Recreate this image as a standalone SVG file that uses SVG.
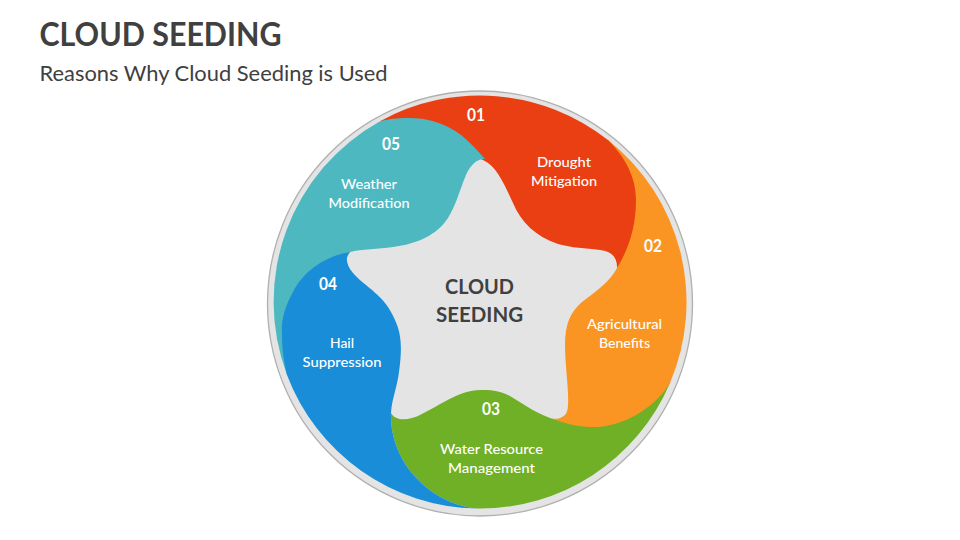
<svg xmlns="http://www.w3.org/2000/svg" width="960" height="540" viewBox="0 0 960 540">
<style>
text{font-family:"Lato","Carlito","Open Sans",sans-serif}
.t{fill:#404040}
.h{font-weight:700;font-size:32px}
.s{font-weight:400;font-size:21.500px}
.c{font-weight:700;font-size:20.500px;text-anchor:middle;fill:#404040}
.n{font-weight:700;font-size:16.500px;text-anchor:middle;fill:#fff}
.l{font-weight:500;font-size:14px;text-anchor:middle;fill:#fff}
</style>
<rect width="960" height="540" fill="#fff"/>
<text class="t h" x="39.500" y="45.500" textLength="242" lengthAdjust="spacingAndGlyphs">CLOUD SEEDING</text>
<text class="t s" x="39.500" y="81" textLength="348" lengthAdjust="spacingAndGlyphs">Reasons Why Cloud Seeding is Used</text>
<g id="ring"><circle cx="480" cy="303.500" r="212.500" fill="#e4e4e4" stroke="#b0b0b0" stroke-width="1.300"/></g>
<g id="node-03">
<path fill="#6fb026" d="M391,413C390,440 402,468 427,488C442,500 460,507 477,508.500A206.500,206.500 0 0 0 670,383L640,400L575,410L557,420C540,416 525,405 510,396C498,390 490,390 480,390C460,390 440,405 420,415C410,420 396,422 391,413Z"/>
<text class="n" x="491" y="415" textLength="18" lengthAdjust="spacingAndGlyphs">03</text>
<text class="l" x="491.500" y="454" textLength="103" lengthAdjust="spacingAndGlyphs">Water Resource</text>
<text class="l" x="491.500" y="473" textLength="87" lengthAdjust="spacingAndGlyphs">Management</text>
</g>
<g id="node-02">
<path fill="#fa9524" d="M608,140A206.500,206.500 0 0 1 670,383C658,403 630,425 597,427C580,427.500 566,424 552,418.500C560,420 568,417 568,405C569,390 565,365 565,345C565,325 570,312 582,302C595,292 610,282 617,268L625,210L600,150Z"/>
<text class="n" x="653" y="252" textLength="18" lengthAdjust="spacingAndGlyphs">02</text>
<text class="l" x="624.500" y="329" textLength="75" lengthAdjust="spacingAndGlyphs">Agricultural</text>
<text class="l" x="624.500" y="348" textLength="51" lengthAdjust="spacingAndGlyphs">Benefits</text>
</g>
<g id="node-01">
<path fill="#ea3e13" d="M380,121.300A206.500,206.500 0 0 1 608,140C625,157 636,177 636,200C636,228 628,250 617,268C617.500,258 612,251 600,250C585,248 572,248 558,244C535,236 521,222 513,203C505,186 497,166 483,160L470,155L410,130Z"/>
<text class="n" x="476" y="121" textLength="18" lengthAdjust="spacingAndGlyphs">01</text>
<text class="l" x="564" y="167" textLength="54" lengthAdjust="spacingAndGlyphs">Drought</text>
<text class="l" x="564" y="186" textLength="66" lengthAdjust="spacingAndGlyphs">Mitigation</text>
</g>
<g id="node-05">
<path fill="#4eb8c1" d="M380,121.300C392,118 402,118 410,118C435,118 457,129 470,143C476,149 481,154 485,159C478,158 470,165 466,175C459,192 457,203 448,218C437,235 417,244 393,247C378,249 362,249 350,252L340,270L300,340L287,375A206.500,206.500 0 0 1 380,121.300Z"/>
<text class="n" x="391" y="150" textLength="18" lengthAdjust="spacingAndGlyphs">05</text>
<text class="l" x="369" y="189" textLength="56" lengthAdjust="spacingAndGlyphs">Weather</text>
<text class="l" x="369" y="208" textLength="81" lengthAdjust="spacingAndGlyphs">Modification</text>
</g>
<g id="node-04">
<path fill="#1a8dd8" d="M350,252C330,255 305,268 293,292C284,308 281,322 282,335C282,350 284,362 287,375A206.500,206.500 0 0 0 477,508.500C460,507 442,500 427,488C402,468 390,440 391,413C392,398 397,388 399,372C402,350 402,335 395,320C385,295 365,287 353,273C346,265 345,256 350,252Z"/>
<text class="n" x="328" y="290" textLength="18" lengthAdjust="spacingAndGlyphs">04</text>
<text class="l" x="342" y="348" textLength="24" lengthAdjust="spacingAndGlyphs">Hail</text>
<text class="l" x="342" y="367" textLength="79" lengthAdjust="spacingAndGlyphs">Suppression</text>
</g>
<g id="center">
<text class="c" x="479.500" y="293.500" textLength="69" lengthAdjust="spacingAndGlyphs">CLOUD</text>
<text class="c" x="479.500" y="321.500" textLength="87" lengthAdjust="spacingAndGlyphs">SEEDING</text>
</g>
<g id="connectors"/>
</svg>
